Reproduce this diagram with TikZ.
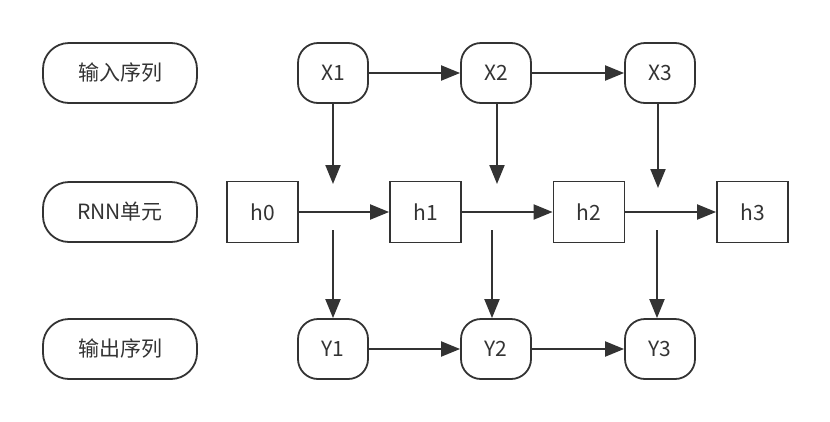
\documentclass[tikz,border=0pt]{standalone}
\usepackage{fontspec}
\setmainfont{Noto Sans CJK SC}
\usetikzlibrary{arrows.meta}
\definecolor{ink}{HTML}{333333}
\begin{document}
\begin{tikzpicture}[x=1pt,y=-1pt,
  base/.style={draw=ink, line width=1.8pt, text=ink, font=\fontsize{21}{24}\selectfont, inner sep=0pt, anchor=center},
  labelbox/.style={base, minimum width=154pt, minimum height=60pt, rounded corners=26pt},
  seqbox/.style={base, minimum width=70pt, minimum height=60pt, rounded corners=20pt},
  cellbox/.style={base, rounded corners=0pt, minimum width=71pt, minimum height=61pt},
  conn/.style={draw=ink, line width=2pt, -{Triangle[length=19pt,width=15pt]}}]
\useasboundingbox (0,0) rectangle (830,421);
\node[labelbox] (Lin) at (120,73) {输入序列};
\node[labelbox] (Lrnn) at (120,212) {RNN单元};
\node[labelbox] (Lout) at (120,349) {输出序列};

\node[seqbox] (X1) at (333,73) {X1};
\node[seqbox] (X2) at (496,73) {X2};
\node[seqbox] (X3) at (660,73) {X3};

\node[cellbox] (h0) at (262.5,212) {h0};
\node[cellbox] (h1) at (425.5,212) {h1};
\node[cellbox] (h2) at (589,212) {h2};
\node[cellbox] (h3) at (752.5,212) {h3};

\node[seqbox] (Y1) at (333,349) {Y1};
\node[seqbox] (Y2) at (496,349) {Y2};
\node[seqbox] (Y3) at (660,349) {Y3};

\coordinate (a1) at (333,184);
\coordinate (a2) at (497,184);
\coordinate (a3) at (658,188);
\coordinate (b1) at (333,230);
\coordinate (b2) at (492,230);
\coordinate (b3) at (657,230);

\draw[conn] (X1) -- (X2);
\draw[conn] (X2) -- (X3);
\draw[conn] (Y1) -- (Y2);
\draw[conn] (Y2) -- (Y3);
\draw[conn] (h0) -- (h1);
\draw[conn] (h1) -- (h2);
\draw[conn] (h2) -- (h3);

\draw[conn] (X1.south) -- (a1);
\draw[conn] (X2.south -| a2) -- (a2);
\draw[conn] (X3.south -| a3) -- (a3);
\draw[conn] (b1) -- (Y1.north);
\draw[conn] (b2) -- (Y2.north -| b2);
\draw[conn] (b3) -- (Y3.north -| b3);
\end{tikzpicture}
\end{document}
